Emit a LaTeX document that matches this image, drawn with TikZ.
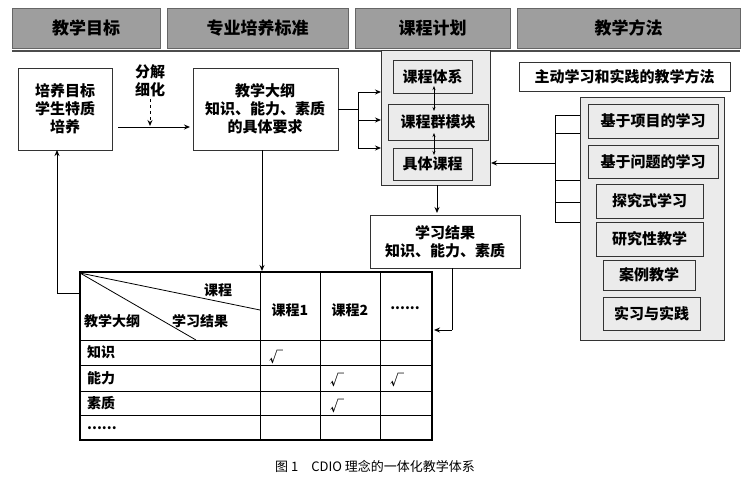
\documentclass[tikz,border=0pt]{standalone}
\usepackage{fontspec}
\setmainfont{Noto Sans CJK SC}
\usetikzlibrary{arrows.meta}
\begin{document}
\begin{tikzpicture}[x=1pt,y=-1pt,
  hdr/.style={draw=black!60,fill=black!38,line width=1pt},
  bx/.style={draw=black!80,line width=1pt,fill=white},
  gbx/.style={draw=black!80,line width=1pt,fill=black!8},
  ibx/.style={draw=black!80,line width=1pt,fill=black!8},
  lbl/.style={font=\fontsize{15}{18}\selectfont\bfseries,align=center,inner sep=0},
  hl/.style={font=\fontsize{17}{18}\selectfont\bfseries,inner sep=0},
  ar/.style={-{Stealth[length=6pt,width=5pt]},line width=1pt},
  ln/.style={line width=1pt},
  tk/.style={font=\fontsize{14}{14}\selectfont\bfseries,inner sep=0}]
\useasboundingbox (0,0) rectangle (742,483);
% header
\foreach \a/\b/\t/\n in {12/160/教学目标/h1,167/348/专业培养标准/h2,355/510/课程计划/h3,517/740/教学方法/h4}{
  \draw[hdr] (\a,8) rectangle (\b,48);
  \node[hl] (\n) at ({(\a+\b)/2},28) {\t};}
\draw[line width=1.5pt,black!70] (12,51) -- (740,51);
% left boxes
\draw[bx] (18,68) rectangle (112,150);
\node[lbl] (goal) at (65,109) {培养目标\\学生特质\\培养};
\coordinate (goalb) at (57,150);
\node[lbl] (fj) at (150,81) {分解\\细化};
\draw[bx] (193,68) rectangle (338,150);
\node[lbl] (dg) at (265,109) {教学大纲\\知识、能力、素质\\的具体要求};
\coordinate (a1) at (118,127); \coordinate (a2) at (190,127);
\draw[ar] (a1) -- (a2);
\draw[ar,dashed] (fj.south) ++(0,2) -- (150,126);
% course plan
\draw[gbx] (381,50) rectangle (490,185);
\draw[ibx] (393,60) rectangle (472,93); \node[lbl] (k1) at (432.5,76.5) {课程体系};
\draw[ibx] (388,104) rectangle (488,140); \node[lbl] (k2) at (438,122) {课程群模块};
\draw[ibx] (393,148) rectangle (472,180); \node[lbl] (k3) at (432.5,164) {具体课程};
\draw[{Stealth[length=4pt]}-{Stealth[length=4pt]},line width=0.8pt] (434,86) -- (434,111);
\draw[{Stealth[length=4pt]}-{Stealth[length=4pt]},line width=0.8pt] (434,133) -- (434,155);
\draw[ln] (338,109) -- (358,109);
\draw[ln] (358,92) -- (358,148);
\foreach \y in {92,120,148} \draw[ar] (358,\y) -- (381,\y);
% learning results
\draw[bx] (370,215) rectangle (520,268);
\node[lbl] (lr) at (445,241.5) {学习结果\\知识、能力、素质};
\draw[ar] (437,185) -- (437,213);
% methods
\draw[bx] (519,62) rectangle (730,91);
\node[lbl] (zd) at (624.5,76.5) {主动学习和实践的教学方法};
\draw[gbx] (580,97) rectangle (724,340);
\foreach \a/\b/\c/\d/\t/\n in {588/104/718/138/基于项目的学习/m1,588/145/718/178/基于问题的学习/m2,596/184/703/218/探究式学习/m3,596/222/703/256/研究性教学/m4,603/260/695/290/案例教学/m5,603/297/700/330/实习与实践/m6}{
  \draw[ibx] (\a,\b) rectangle (\c,\d);
  \node[lbl] (\n) at ({(\a+\c)/2},{(\b+\d)/2}) {\t};}
\draw[ln] (555,115) -- (555,222);
\foreach \y in {115,133,180,202,222} \draw[ln] (555,\y) -- (580,\y);
\draw[ar] (555,163) -- (491,163);
% table
\draw[ar] (262,150) -- (262,271);
\draw[ln] (452,268) -- (452,330);
\draw[ar] (452,330) -- (434,330);
\draw[line width=0.8pt] (80,273) -- (260,310);
\draw[line width=0.8pt] (80,273) -- (196,340);
\foreach \y in {340,365,391,415} \draw[line width=1pt] (80,\y) -- (432,\y);
\foreach \x in {260,320,380} \draw[line width=1pt] (\x,272) -- (\x,440);
\draw[line width=2pt] (80,272) rectangle (432,440);
\node[tk] (c0) at (218,290) {课程};
\node[tk] (c1) at (112,321) {教学大纲};
\node[tk] (c2) at (200,321) {学习结果};
\node[tk] (h1) at (290,310) {课程1};
\node[tk] (h2) at (350,310) {课程2};
\node[tk] (h3) at (405,308) {......};
\node[tk,anchor=west] (r1) at (87,352) {知识};
\node[tk,anchor=west] (r2) at (87,378) {能力};
\node[tk,anchor=west] (r3) at (87,403) {素质};
\node[tk,anchor=west] (r4) at (87,428) {......};
\foreach \x/\y/\n in {276/357/v1,337/380/v2,397/380/v3,337/406/v4} \node[tk] (\n) at (\x,\y) {√};
\draw[ln] (80,293) -- (57,293);
\draw[ar] (57,293) -- (goalb);
% caption
\node[font=\fontsize{13}{14}\selectfont,inner sep=0] (cap) at (375,466) {图 1\quad CDIO 理念的一体化教学体系};
\end{tikzpicture}
\end{document}
